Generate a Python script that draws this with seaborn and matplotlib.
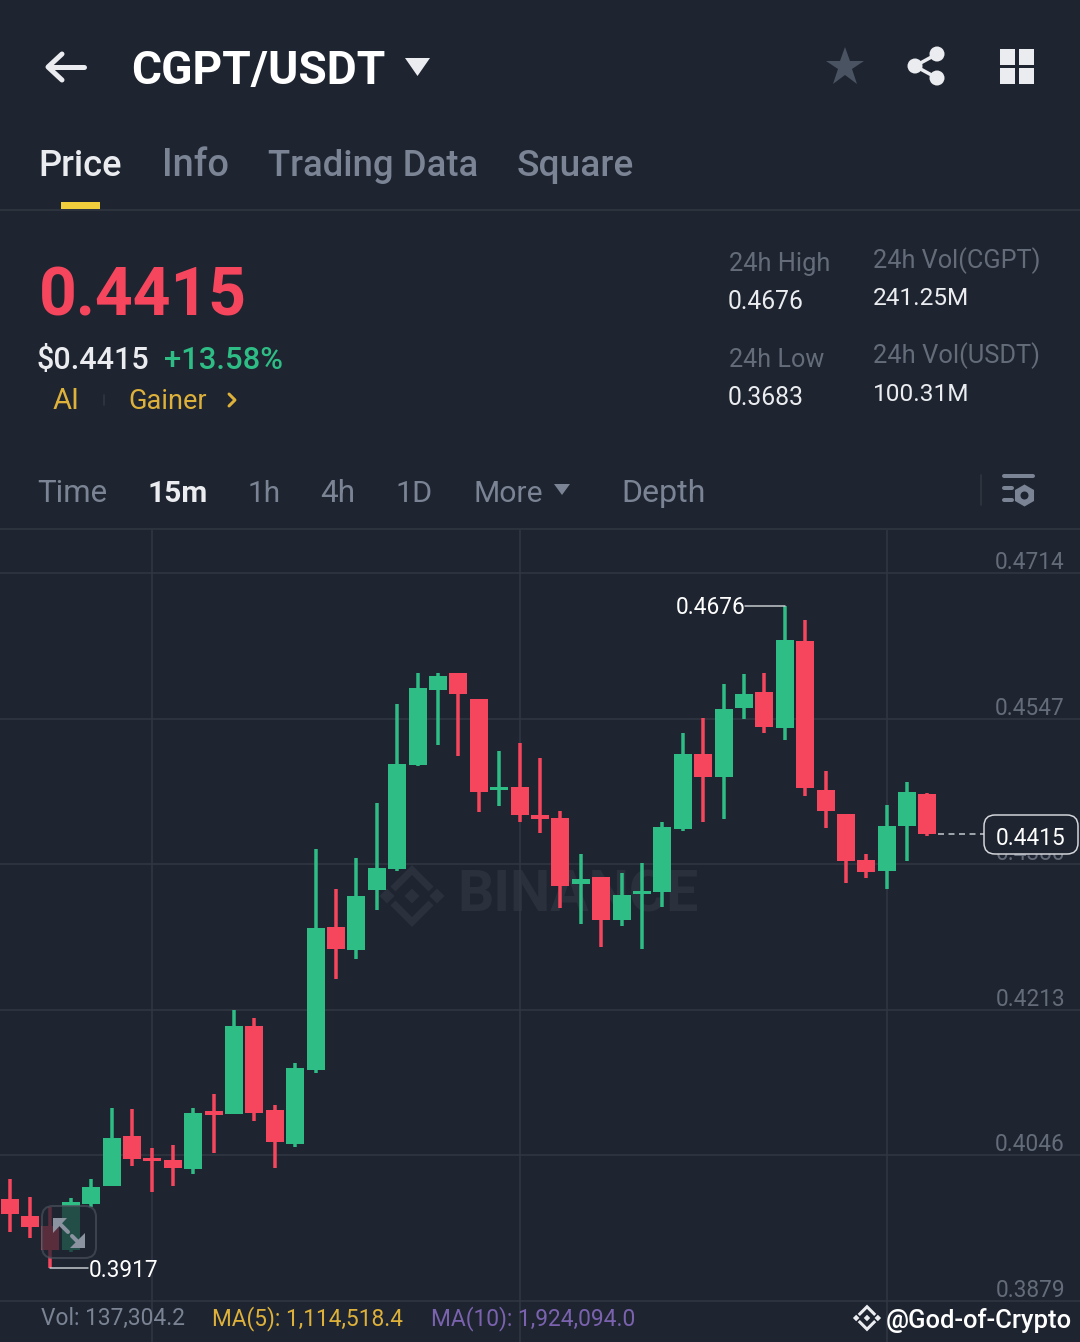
import matplotlib
matplotlib.use("Agg")
import matplotlib.pyplot as plt
from matplotlib.patches import FancyBboxPatch, Polygon, Rectangle, Circle
import pandas as pd
import seaborn as sns

# OHLC, 15m candles left to right
OPEN = [0.3996, 0.3976, 0.3965, 0.3937, 0.3990, 0.4011, 0.4068, 0.4043, 0.4041, 0.4030,
        0.4097, 0.4093, 0.4194, 0.4098, 0.4059, 0.4144, 0.4308, 0.4282, 0.4350, 0.4375,
        0.4494, 0.4580, 0.4599, 0.4570, 0.4465, 0.4469, 0.4436, 0.4433, 0.4357, 0.4365,
        0.4316, 0.4346, 0.4348, 0.4420, 0.4506, 0.4480, 0.4559, 0.4577, 0.4536, 0.4636,
        0.4465, 0.4438, 0.4385, 0.4372, 0.4424, 0.4461]
HIGH = [0.4019, 0.3998, 0.3987, 0.3997, 0.4019, 0.4100, 0.4099, 0.4054, 0.4058, 0.4100,
        0.4116, 0.4213, 0.4204, 0.4104, 0.4152, 0.4397, 0.4352, 0.4387, 0.4450, 0.4564,
        0.4599, 0.4599, 0.4599, 0.4570, 0.4510, 0.4519, 0.4502, 0.4441, 0.4392, 0.4365,
        0.4370, 0.4381, 0.4428, 0.4531, 0.4548, 0.4587, 0.4598, 0.4599, 0.4676, 0.4660,
        0.4487, 0.4438, 0.4392, 0.4448, 0.4474, 0.4462]
LOW = [0.3958, 0.3951, 0.3917, 0.3935, 0.3987, 0.4011, 0.4034, 0.4004, 0.4011, 0.4025,
       0.4049, 0.4093, 0.4085, 0.4032, 0.4056, 0.4141, 0.4248, 0.4271, 0.4327, 0.4372,
       0.4493, 0.4517, 0.4504, 0.4440, 0.4447, 0.4428, 0.4416, 0.4330, 0.4311, 0.4285,
       0.4309, 0.4283, 0.4331, 0.4418, 0.4428, 0.4432, 0.4547, 0.4531, 0.4522, 0.4458,
       0.4421, 0.4358, 0.4364, 0.4352, 0.4384, 0.4412]
CLOSE = [0.3979, 0.3964, 0.3937, 0.3993, 0.4010, 0.4066, 0.4042, 0.4040, 0.4032, 0.4095,
         0.4092, 0.4194, 0.4095, 0.4061, 0.4146, 0.4307, 0.4283, 0.4344, 0.4376, 0.4495,
         0.4582, 0.4596, 0.4575, 0.4463, 0.4469, 0.4436, 0.4432, 0.4355, 0.4363, 0.4316,
         0.4345, 0.4349, 0.4423, 0.4506, 0.4480, 0.4558, 0.4575, 0.4537, 0.4637, 0.4467,
         0.4441, 0.4384, 0.4371, 0.4424, 0.4463, 0.4415]

PRICE_TICKS = [0.4714, 0.4547, 0.4380, 0.4213, 0.4046, 0.3879]
TIME_GRID = [7, 25, 43]
LAST_PRICE = 0.4415
HIGH_MARK = (38, 0.4676)
LOW_MARK = (2, 0.3917)

BG = "#1E2430"
GRID = "#323843"
LINE = "#2D333D"
GREEN = "#2EBD85"
RED = "#F6465D"
WHITE = "#EAECEF"
GREY = "#7B8494"
DIM = "#646C7A"
YELLOW = "#DDB13A"
PURPLE = "#7A62AE"

W, H = 1080, 1342
CHART_TOP = 530
LABEL_SIZE = 16.3

sns.set_theme(style="dark")
plt.rcParams["font.family"] = ["Roboto", "DejaVu Sans"]


def lw(pixels):
    return pixels * 72 / 100


def fit_text(ax, x0, x1, base, s, color, weight="normal", **kw):
    # scale the font so the string spans x0..x1 pixels
    t = ax.text(x0, base, s, color=color, fontweight=weight, fontsize=20,
                ha="left", va="baseline", **kw)
    width = t.get_window_extent(renderer).width
    t.set_fontsize(20 * (x1 - x0) / width)
    return t


def binance_logo(ax, cx, cy, r, color):
    k = r / 30
    for dx, dy in [(0, 0), (-25, 0), (25, 0)]:
        x, y = cx + dx * k, cy + dy * k
        q = 7.5 * k
        ax.add_patch(Polygon([(x - q, y), (x, y - q), (x + q, y), (x, y + q)], color=color, lw=0))
    for sign in [-1, 1]:
        ax.plot([cx - 19 * k, cx, cx + 19 * k],
                [cy + sign * 7 * k, cy + sign * 26 * k, cy + sign * 7 * k],
                color=color, lw=lw(7 * k), solid_joinstyle="miter", solid_capstyle="butt")


fig = plt.figure(figsize=(W / 100, H / 100), dpi=100, facecolor=BG)
renderer = fig.canvas.get_renderer()


def pixel_axes(zorder):
    a = fig.add_axes([0, 0, 1, 1], zorder=zorder)
    a.set_xlim(0, W)
    a.set_ylim(H, 0)
    a.axis("off")
    return a


ui = pixel_axes(0)
ax = fig.add_axes([0, 0, 1, (H - CHART_TOP) / H], zorder=1)
top = pixel_axes(2)

# header
ui.plot([84, 49], [67, 67], color=WHITE, lw=lw(5))
ui.plot([62, 48, 62], [54, 67, 80], color=WHITE, lw=lw(5))
fit_text(ui, 131, 385, 84, "CGPT/USDT", "white", "bold")
ui.add_patch(Polygon([(405, 58), (430, 58), (417.5, 76)], color=WHITE, lw=0))
ui.plot([845], [67], marker="*", ms=lw(41), color="#4A5362", mew=0)
for x, y in [(915, 66), (937, 54), (937, 78)]:
    ui.add_patch(Circle((x, y), 7.5, color=WHITE, lw=0))
ui.plot([937, 915, 937], [54, 66, 78], color=WHITE, lw=lw(3.5))
for x in [999.5, 1018.5]:
    for y in [49, 68]:
        ui.add_patch(Rectangle((x, y), 15.5, 16, color=WHITE, lw=0))

# tabs
fit_text(ui, 38, 122, 176, "Price", WHITE, "medium")
fit_text(ui, 162, 229, 176, "Info", GREY, "medium")
fit_text(ui, 268, 478, 176, "Trading Data", GREY, "medium")
fit_text(ui, 517, 634, 176, "Square", GREY, "medium")
ui.add_patch(Rectangle((61, 202), 39, 7, color="#F0CE3C", lw=0))
ui.plot([0, W], [210, 210], color=LINE, lw=lw(2))

# price block
fit_text(ui, 39, 247, 315, "0.4415", RED, "bold")
fit_text(ui, 37, 150, 369, "$0.4415", WHITE, "medium")
fit_text(ui, 164, 283, 369, "+13.58%", GREEN, "medium")
fit_text(ui, 53, 80, 409, "AI", YELLOW)
ui.plot([104, 104], [395, 405], color=LINE, lw=lw(2))
fit_text(ui, 128, 206, 409, "Gainer", YELLOW)
ui.plot([229, 235, 229], [394, 400, 406], color=YELLOW, lw=lw(3))

# 24h stats
fit_text(ui, 729, 830, 271, "24h High", DIM)
fit_text(ui, 728, 804, 309, "0.4676", WHITE)
fit_text(ui, 729, 824, 367, "24h Low", DIM)
fit_text(ui, 728, 804, 405, "0.3683", WHITE)
fit_text(ui, 873, 1040, 268, "24h Vol(CGPT)", DIM)
fit_text(ui, 873, 969, 305, "241.25M", WHITE)
fit_text(ui, 873, 1040, 363, "24h Vol(USDT)", DIM)
fit_text(ui, 873, 969, 401, "100.31M", WHITE)

# interval row
fit_text(ui, 37, 107, 502, "Time", GREY)
fit_text(ui, 148, 208, 502, "15m", WHITE, "bold")
fit_text(ui, 248, 281, 502, "1h", GREY)
fit_text(ui, 320, 355, 502, "4h", GREY)
fit_text(ui, 395, 432, 502, "1D", GREY)
fit_text(ui, 473, 542, 502, "More", GREY)
ui.add_patch(Polygon([(554, 484), (570, 484), (562, 495)], color=GREY, lw=0))
fit_text(ui, 621, 705, 502, "Depth", GREY)
ui.plot([981, 981], [475, 505], color=LINE, lw=lw(2))
ui.plot([1004, 1033], [476, 476], color=GREY, lw=lw(4))
ui.plot([1004, 1012], [488, 488], color=GREY, lw=lw(4))
ui.plot([1004, 1012], [500, 500], color=GREY, lw=lw(4))
ui.plot([1024], [495], marker="h", ms=lw(22), color=GREY, mew=0)
ui.plot([1024], [495], marker="o", ms=lw(8), color=BG, mew=0)
ui.plot([0, W], [529, 529], color=LINE, lw=lw(2))

# watermark sits under the candles
binance_logo(ui, 412, 896, 30, "#2B313C")
fit_text(ui, 457, 698, 912, "BINANCE", "#2B313C", "bold")

# candles
candles = pd.DataFrame({"open": OPEN, "high": HIGH, "low": LOW, "close": CLOSE})
candles["candle"] = range(len(candles))
candles["side"] = ["up" if c > o else "down" for o, c in zip(OPEN, CLOSE)]
wicks = candles.melt(id_vars=["candle", "side"], value_vars=["low", "high"], value_name="price")
bodies = candles.melt(id_vars=["candle", "side"], value_vars=["open", "close"], value_name="price")
palette = {"up": GREEN, "down": RED}

sns.lineplot(data=wicks, x="candle", y="price", hue="side", units="candle", estimator=None,
             palette=palette, legend=False, ax=ax, lw=lw(3.5), solid_capstyle="butt", zorder=3)
sns.lineplot(data=bodies, x="candle", y="price", hue="side", units="candle", estimator=None,
             palette=palette, legend=False, ax=ax, lw=lw(18), solid_capstyle="butt", zorder=4)

# candle i sits at 9.5 + 20.4 * i pixels, 0.0167 of price is 145.6 pixels
ax.set_xlim(-9.5 / 20.4, (W - 9.5) / 20.4)
ax.set_ylim(0.4714 - (H - 573) * 0.0167 / 145.6, 0.4714 + (573 - CHART_TOP) * 0.0167 / 145.6)
ax.patch.set_alpha(0)
ax.set_xlabel("")
ax.set_ylabel("")
ax.set_xticks(TIME_GRID, [""] * len(TIME_GRID))
ax.set_yticks(PRICE_TICKS, [""] * len(PRICE_TICKS))
ax.tick_params(length=0)
ax.grid(True, color=GRID, lw=lw(1.5))
ax.set_axisbelow(True)
sns.despine(ax=ax, left=True, bottom=True)

for p in PRICE_TICKS:
    ax.annotate(f"{p:.4f}", (1, p), xycoords=("axes fraction", "data"), xytext=(-15, 4),
                textcoords="offset pixels", ha="right", va="baseline", color=DIM, fontsize=LABEL_SIZE)

# last price line and pill
ax.plot([len(OPEN) - 1 + 0.5, (984 - 9.5) / 20.4], [LAST_PRICE, LAST_PRICE], color="#C8CCD2",
        lw=lw(1.5), ls=(0, (4, 3)), zorder=2)
top.add_patch(FancyBboxPatch((984, 815), 94, 39, boxstyle="round,pad=0,rounding_size=11",
                             fc=BG, ec="#D5D8DC", lw=lw(1.5)))
top.text(1031, 845, f"{LAST_PRICE:.4f}", color="white", ha="center", va="baseline", fontsize=LABEL_SIZE)

# high and low labels
ax.annotate(f"{HIGH_MARK[1]:.4f}", HIGH_MARK, xytext=(-109, -8), textcoords="offset pixels",
            color="white", fontsize=LABEL_SIZE, va="baseline")
ax.annotate(f"{LOW_MARK[1]:.4f}", LOW_MARK, xytext=(38, -9), textcoords="offset pixels",
            color="white", fontsize=LABEL_SIZE, va="baseline")
ax.plot([HIGH_MARK[0] - 1.95, HIGH_MARK[0]], [HIGH_MARK[1], HIGH_MARK[1]], color="#C8CCD2", lw=lw(1.5), zorder=5)
ax.plot([LOW_MARK[0], LOW_MARK[0] + 1.85], [LOW_MARK[1], LOW_MARK[1]], color="#C8CCD2", lw=lw(1.5), zorder=5)

# expand button over the first candles
top.add_patch(FancyBboxPatch((42, 1206), 54, 52, boxstyle="round,pad=0,rounding_size=11",
                             fc=BG, alpha=0.72, ec="#4A505B", lw=lw(2)))
top.plot([68, 58], [1232, 1222], color="#8B93A1", lw=lw(4))
top.add_patch(Polygon([(53, 1218), (67, 1218), (53, 1233)], color="#8B93A1", lw=0))
top.plot([72, 80], [1236, 1244], color="#8B93A1", lw=lw(4))
top.add_patch(Polygon([(85, 1248), (70, 1248), (85, 1233)], color="#8B93A1", lw=0))

# volume row and attribution
fit_text(top, 41, 185, 1325, "Vol: 137,304.2", GREY)
fit_text(top, 212, 403, 1325, "MA(5): 1,114,518.4", YELLOW)
fit_text(top, 431, 635, 1325, "MA(10): 1,924,094.0", PURPLE)
binance_logo(top, 867, 1318, 13, WHITE)
fit_text(top, 886, 1072, 1328, "@God-of-Crypto", "white", "medium")

fig.savefig("out.png", dpi=100, facecolor=BG)
